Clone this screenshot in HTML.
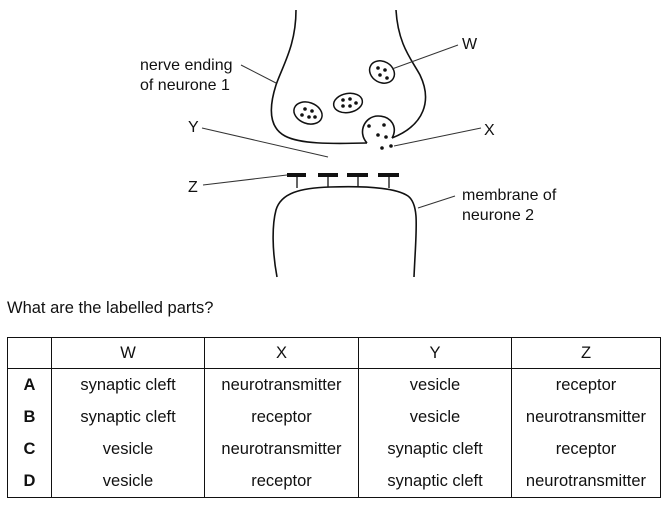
<!DOCTYPE html>
<html><head><style>
body{margin:0;background:#fff;width:667px;height:505px;overflow:hidden;font-family:"Liberation Sans",Arial,sans-serif;color:#111}
svg{position:absolute;left:0;top:0}
table{position:absolute;left:7px;top:337px;border-collapse:collapse;font-size:16.5px}
td{border-left:1px solid #111;border-right:1px solid #111;text-align:center;padding:0;height:32px}
tr.h td{border-bottom:1px solid #111;height:30px}
table{border:1px solid #111}
td.l{font-weight:bold;width:43px}
</style></head><body>
<svg width="667" height="330" viewBox="0 0 667 330" font-family="Liberation Sans, Arial, sans-serif" font-size="16" fill="#111">
<g fill="none" stroke="#111" stroke-width="1.6">
<path d="M296,10 C296,45 283,65 276,85 C268,110 270,128 285,136 C300,144 330,144 367,143"/>
<path d="M367,143 C357,132 365,116 378,116 C392,116 398,128 392,138"/>
<path d="M396,10 C398,45 412,60 420,75 C432,100 425,125 392,138"/>
<path d="M277,277 C272,250 272,225 276,210 C281,193 300,188 330,187 C360,186 395,187 408,196 C420,205 416,230 414,277"/>
</g>
<g stroke="#111" stroke-width="4">
<line x1="287" y1="175" x2="306" y2="175"/><line x1="318" y1="175" x2="338" y2="175"/>
<line x1="347" y1="175" x2="368" y2="175"/><line x1="378" y1="175" x2="399" y2="175"/>
</g>
<g stroke="#111" stroke-width="1.3">
<line x1="297" y1="175" x2="297" y2="188"/><line x1="328" y1="175" x2="328" y2="187"/>
<line x1="358" y1="175" x2="358" y2="187"/><line x1="389" y1="175" x2="389" y2="188"/>
</g>
<g fill="none" stroke="#111" stroke-width="1.5">
<ellipse cx="382" cy="72" rx="13" ry="10.5" transform="rotate(30 382 72)"/>
<ellipse cx="348" cy="103" rx="14.5" ry="9.5" transform="rotate(-10 348 103)"/>
<ellipse cx="308" cy="113" rx="14.5" ry="10.5" transform="rotate(20 308 113)"/>
</g>
<g>
<circle cx="378" cy="68" r="1.8"/><circle cx="385" cy="70" r="1.8"/><circle cx="380" cy="75" r="1.8"/><circle cx="387" cy="78" r="1.8"/>
<circle cx="343" cy="100" r="1.8"/><circle cx="350" cy="99" r="1.8"/><circle cx="356" cy="103" r="1.8"/><circle cx="343" cy="106" r="1.8"/><circle cx="350" cy="106" r="1.8"/>
<circle cx="305" cy="109" r="1.8"/><circle cx="312" cy="111" r="1.8"/><circle cx="302" cy="115" r="1.8"/><circle cx="309" cy="117" r="1.8"/><circle cx="315" cy="117" r="1.8"/>
<circle cx="369" cy="126" r="1.8"/><circle cx="384" cy="125" r="1.8"/><circle cx="378" cy="135" r="1.8"/><circle cx="386" cy="137" r="1.8"/>
<circle cx="382" cy="148" r="1.8"/><circle cx="391" cy="146" r="1.8"/>
</g>
<g stroke="#333" stroke-width="1">
<line x1="241" y1="65" x2="276" y2="83"/>
<line x1="392" y1="69" x2="458" y2="45"/>
<line x1="394" y1="146" x2="481" y2="128"/>
<line x1="202" y1="128" x2="328" y2="157"/>
<line x1="203" y1="185" x2="287" y2="175"/>
<line x1="418" y1="208" x2="455" y2="196"/>
</g>
<text x="140" y="70">nerve ending</text>
<text x="140" y="90">of neurone 1</text>
<text x="462" y="49">W</text>
<text x="484" y="135">X</text>
<text x="188" y="132">Y</text>
<text x="188" y="192">Z</text>
<text x="462" y="200">membrane of</text>
<text x="462" y="220">neurone 2</text>
<text x="7" y="313" font-size="16.5">What are the labelled parts?</text>
</svg>
<table>
<tr class="h"><td class="l"></td><td style="width:152px">W</td><td style="width:153px">X</td><td style="width:152px">Y</td><td style="width:148px">Z</td></tr>
<tr><td class="l">A</td><td>synaptic cleft</td><td>neurotransmitter</td><td>vesicle</td><td>receptor</td></tr>
<tr><td class="l">B</td><td>synaptic cleft</td><td>receptor</td><td>vesicle</td><td>neurotransmitter</td></tr>
<tr><td class="l">C</td><td>vesicle</td><td>neurotransmitter</td><td>synaptic cleft</td><td>receptor</td></tr>
<tr><td class="l">D</td><td>vesicle</td><td>receptor</td><td>synaptic cleft</td><td>neurotransmitter</td></tr>
</table>
</body></html>
